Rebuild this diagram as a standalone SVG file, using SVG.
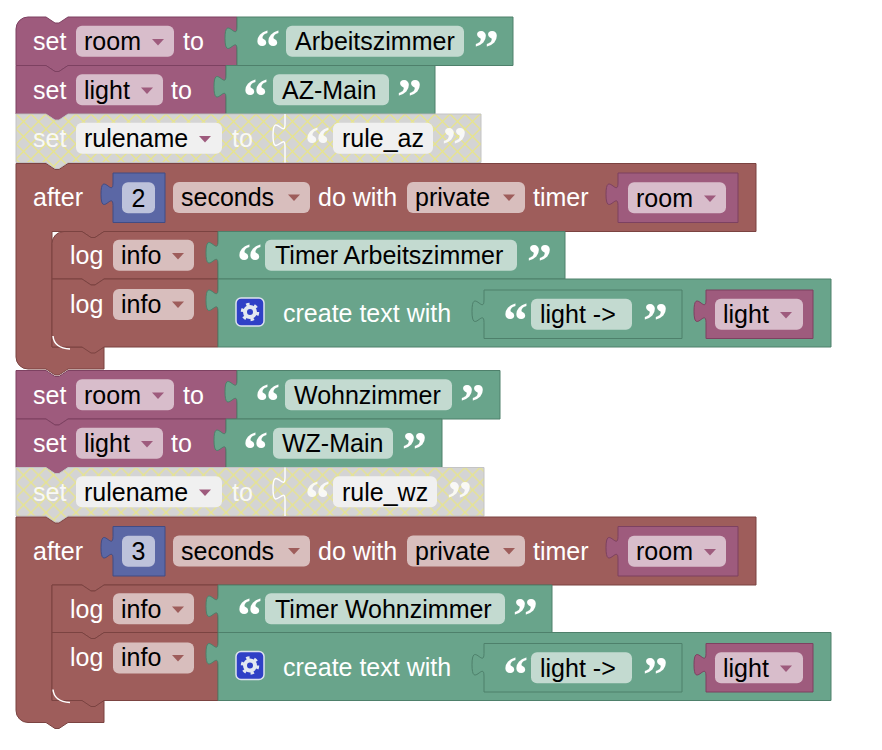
<svg xmlns="http://www.w3.org/2000/svg" width="882" height="750" viewBox="0 0 882 750">
<defs>
<pattern id="dis" width="15" height="15" patternUnits="userSpaceOnUse"><rect width="15" height="15" fill="#d4d4d4"/><path d="M0,0 L15,15 M15,0 L0,15" stroke="#e7e48c" stroke-width="1.3"/></pattern>
<g id="gear"><circle r="5" fill="none" stroke="#e3e8f0" stroke-width="4"/><circle r="7.5" fill="none" stroke="#e3e8f0" stroke-width="3.5" stroke-dasharray="3.3 4.55"/></g>
</defs>
<style>
.t{font-family:"Liberation Sans",Arial,sans-serif;font-size:25px;fill:#fff}
.k{font-family:"Liberation Sans",Arial,sans-serif;font-size:25px;fill:#000}
.q{font-family:"Liberation Serif","Times New Roman",serif;font-weight:bold;font-size:50px;fill:#fff}
.pill{fill:#fff;fill-opacity:.6}
.dpill{fill:#f0f0f0}
.pu{fill:#9e5b7d;stroke:#7d4161;stroke-width:1}
.gr{fill:#69a48b;stroke:#4e806b;stroke-width:1}
.br{fill:#9e5d5b;stroke:#7b4341;stroke-width:1}
.bl{fill:#5b67a5;stroke:#414c85;stroke-width:1}
.ds{fill:url(#dis);stroke:#c4c4c4;stroke-width:1}
.dt{opacity:.85}
.ap{fill:#9e5b7d}
.ab{fill:#9e5d5b}
.hl{fill:none;stroke:#fff;stroke-width:1.5}
.gb{fill:#2f40c6;stroke:#dde2ee;stroke-width:1.5}
</style>
<rect width="882" height="750" fill="#fff"/>
<g id="connectors"/>

<!-- ===== group 1 ===== -->
<g id="set-room-1" transform="translate(16,17)">
<path class="pu" d="M0,12 A12,12 0 0 1 12,0 H30 l9,6 h4 l9,-6 H221 V48.5 H52 l-9,6 h-4 l-9,-6 H0 Z"/>
<text class="t" x="17" y="33">set</text>
<rect class="pill" x="60" y="8.75" width="98" height="31" rx="6"/>
<text class="k" x="68" y="33">room</text>
<path class="ap" d="M136,22 h12 l-6,6.5 z"/>
<text class="t" x="167" y="33">to</text>
</g>
<g id="text-arbeitszimmer" transform="translate(237,17)">
<path class="gr" d="M0,0 v10 c0,15 -12,-12.75 -12,11.25 s12,-3.75 12,11.25 V48.5 H276 V0 Z"/>
<text class="q" x="18" y="47">“</text>
<rect class="pill" x="49" y="8.75" width="178" height="31" rx="6"/>
<text class="k" x="58" y="33">Arbeitszimmer</text>
<text class="q" x="237" y="47">”</text>
</g>
<g id="set-light-1" transform="translate(16,65.5)">
<path class="pu" d="M0,0 H30 l9,6 h4 l9,-6 H210 V48.5 H52 l-9,6 h-4 l-9,-6 H0 Z"/>
<text class="t" x="17" y="33">set</text>
<rect class="pill" x="60" y="8.75" width="87" height="31" rx="6"/>
<text class="k" x="68" y="33">light</text>
<path class="ap" d="M125,22 h12 l-6,6.5 z"/>
<text class="t" x="155" y="33">to</text>
</g>
<g id="text-az-main" transform="translate(226,65.5)">
<path class="gr" d="M0,0 v10 c0,15 -12,-12.75 -12,11.25 s12,-3.75 12,11.25 V48.5 H209 V0 Z"/>
<text class="q" x="17" y="47">“</text>
<rect class="pill" x="47" y="8.75" width="116" height="31" rx="6"/>
<text class="k" x="56" y="33">AZ-Main</text>
<text class="q" x="171" y="47">”</text>
</g>
<g id="set-rulename-1" transform="translate(16,114)">
<path class="ds" d="M0,0 H30 l9,6 h4 l9,-6 H269 V48.5 H52 l-9,6 h-4 l-9,-6 H0 Z"/>
<text class="t dt" x="17" y="33">set</text>
<rect class="dpill" x="60" y="8.75" width="146" height="31" rx="6"/>
<text class="k" x="68" y="33">rulename</text>
<path class="ap" d="M183,22 h12 l-6,6.5 z"/>
<text class="t dt" x="216" y="33">to</text>
</g>
<g id="text-rule-az" transform="translate(285,114)">
<path class="ds" d="M0,0 v10 c0,15 -12,-12.75 -12,11.25 s12,-3.75 12,11.25 V48.5 H196 V0 Z"/>
<path class="hl" d="M0,0 v10 c0,15 -12,-12.75 -12,11.25 s12,-3.75 12,11.25 V48.5"/>
<text class="q dt" x="20" y="47">“</text>
<rect class="dpill" x="48" y="8.75" width="100" height="31" rx="6"/>
<text class="k" x="57" y="33">rule_az</text>
<text class="q dt" x="157" y="47">”</text>
</g>
<g id="after-1" transform="translate(16,163.5)">
<path class="br" d="M0,0 H30 l9,6 h4 l9,-6 H740 V68 H88 l-9,6 h-4 l-9,-6 H36 V183.5 H88 V205.5 H52 l-9,6 h-4 l-9,-6 H12 A12,12 0 0 1 0,193.5 Z"/>
<text class="t" x="17" y="42.5">after</text>
<rect class="pill" x="157" y="18.5" width="137" height="31" rx="6"/>
<text class="k" x="165" y="42.5">seconds</text>
<path class="ab" d="M272,31 h12 l-6,6.5 z"/>
<text class="t" x="302" y="42.5">do with</text>
<rect class="pill" x="391" y="18.5" width="118" height="31" rx="6"/>
<text class="k" x="399" y="42.5">private</text>
<path class="ab" d="M487,31 h12 l-6,6.5 z"/>
<text class="t" x="517" y="42.5">timer</text>
</g>
<g id="number-2" transform="translate(113,173)">
<path class="bl" d="M0,0 v10 c0,15 -12,-12.75 -12,11.25 s12,-3.75 12,11.25 V49.5 H52 V0 Z"/>
<rect class="pill" x="9" y="9.25" width="33" height="31" rx="6"/>
<text class="k" x="25.5" y="33.5" text-anchor="middle">2</text>
</g>
<g id="var-room-1" transform="translate(618,173)">
<path class="pu" d="M0,0 v10 c0,15 -12,-12.75 -12,11.25 s12,-3.75 12,11.25 V49.5 H120 V0 Z"/>
<rect class="pill" x="10" y="9.25" width="98" height="31" rx="6"/>
<text class="k" x="18" y="33.5">room</text>
<path class="ap" d="M86,22.5 h12 l-6,6.5 z"/>
</g>
<g id="log-1a" transform="translate(52,231.5)">
<path class="br" d="M0,12 A12,12 0 0 1 12,0 H30 l9,6 h4 l9,-6 H166 V47.5 H52 l-9,6 h-4 l-9,-6 H0 Z"/>
<text class="t" x="18" y="32.5">log</text>
<rect class="pill" x="61" y="8.25" width="81" height="31" rx="6"/>
<text class="k" x="69" y="32.5">info</text>
<path class="ab" d="M120,21.5 h12 l-6,6.5 z"/>
</g>
<g id="text-timer-az" transform="translate(218,231.5)">
<path class="gr" d="M0,0 v10 c0,15 -12,-12.75 -12,11.25 s12,-3.75 12,11.25 V47.5 H347 V0 Z"/>
<text class="q" x="19" y="46.5">“</text>
<rect class="pill" x="47" y="8.25" width="252" height="31" rx="6"/>
<text class="k" x="57" y="32.5">Timer Arbeitszimmer</text>
<text class="q" x="309" y="46.5">”</text>
</g>
<g id="log-1b" transform="translate(52,279)">
<path class="br" d="M0,0 H30 l9,6 h4 l9,-6 H166 V68 H52 l-9,6 h-4 l-9,-6 H0 Z"/>
<text class="t" x="18" y="33.5">log</text>
<rect class="pill" x="61" y="10" width="81" height="31" rx="6"/>
<text class="k" x="69" y="33.5">info</text>
<path class="ab" d="M120,22.5 h12 l-6,6.5 z"/>
<path class="hl" d="M1,57 Q2,69 18,70" stroke-width="2.5"/>
</g>
<g id="create-text-1" transform="translate(218,279)">
<path class="gr" d="M0,0 v10 c0,15 -12,-12.75 -12,11.25 s12,-3.75 12,11.25 V68 H613 V0 Z"/>
<rect class="gb" x="18" y="19" width="28" height="28" rx="5"/>
<use href="#gear" x="32" y="33"/>
<text class="t" x="65" y="43">create text with</text>
</g>
<g id="text-light-arrow-1" transform="translate(484,290)">
<path class="gr" d="M0,0 v10 c0,15 -12,-12.75 -12,11.25 s12,-3.75 12,11.25 V48.5 H198 V0 Z"/>
<text class="q" x="19" y="47">“</text>
<rect class="pill" x="47" y="8.75" width="101" height="31" rx="6"/>
<text class="k" x="56" y="33">light -&gt;</text>
<text class="q" x="159" y="47">”</text>
</g>
<g id="var-light-1" transform="translate(706,290)">
<path class="pu" d="M0,0 v10 c0,15 -12,-12.75 -12,11.25 s12,-3.75 12,11.25 V48.5 H107 V0 Z"/>
<rect class="pill" x="9" y="8.75" width="88" height="31" rx="6"/>
<text class="k" x="17" y="33">light</text>
<path class="ap" d="M74,22 h12 l-6,6.5 z"/>
</g>

<!-- ===== group 2 ===== -->
<g id="set-room-2" transform="translate(16,370.5)">
<path class="pu" d="M0,0 H30 l9,6 h4 l9,-6 H221 V48.5 H52 l-9,6 h-4 l-9,-6 H0 Z"/>
<text class="t" x="17" y="33">set</text>
<rect class="pill" x="60" y="8.75" width="98" height="31" rx="6"/>
<text class="k" x="68" y="33">room</text>
<path class="ap" d="M136,22 h12 l-6,6.5 z"/>
<text class="t" x="167" y="33">to</text>
</g>
<g id="text-wohnzimmer" transform="translate(237,370.5)">
<path class="gr" d="M0,0 v10 c0,15 -12,-12.75 -12,11.25 s12,-3.75 12,11.25 V48.5 H263 V0 Z"/>
<text class="q" x="18" y="47">“</text>
<rect class="pill" x="48" y="8.75" width="167" height="31" rx="6"/>
<text class="k" x="57" y="33">Wohnzimmer</text>
<text class="q" x="223" y="47">”</text>
</g>
<g id="set-light-2" transform="translate(16,419)">
<path class="pu" d="M0,0 H30 l9,6 h4 l9,-6 H210 V48.5 H52 l-9,6 h-4 l-9,-6 H0 Z"/>
<text class="t" x="17" y="33">set</text>
<rect class="pill" x="60" y="8.75" width="87" height="31" rx="6"/>
<text class="k" x="68" y="33">light</text>
<path class="ap" d="M125,22 h12 l-6,6.5 z"/>
<text class="t" x="155" y="33">to</text>
</g>
<g id="text-wz-main" transform="translate(226,419)">
<path class="gr" d="M0,0 v10 c0,15 -12,-12.75 -12,11.25 s12,-3.75 12,11.25 V48.5 H216 V0 Z"/>
<text class="q" x="17" y="47">“</text>
<rect class="pill" x="47" y="8.75" width="120" height="31" rx="6"/>
<text class="k" x="56" y="33">WZ-Main</text>
<text class="q" x="176" y="47">”</text>
</g>
<g id="set-rulename-2" transform="translate(16,467.5)">
<path class="ds" d="M0,0 H30 l9,6 h4 l9,-6 H269 V48.5 H52 l-9,6 h-4 l-9,-6 H0 Z"/>
<text class="t dt" x="17" y="33">set</text>
<rect class="dpill" x="60" y="8.75" width="146" height="31" rx="6"/>
<text class="k" x="68" y="33">rulename</text>
<path class="ap" d="M183,22 h12 l-6,6.5 z"/>
<text class="t dt" x="216" y="33">to</text>
</g>
<g id="text-rule-wz" transform="translate(285,467.5)">
<path class="ds" d="M0,0 v10 c0,15 -12,-12.75 -12,11.25 s12,-3.75 12,11.25 V48.5 H199 V0 Z"/>
<path class="hl" d="M0,0 v10 c0,15 -12,-12.75 -12,11.25 s12,-3.75 12,11.25 V48.5"/>
<text class="q dt" x="20" y="47">“</text>
<rect class="dpill" x="48" y="8.75" width="104" height="31" rx="6"/>
<text class="k" x="57" y="33">rule_wz</text>
<text class="q dt" x="162" y="47">”</text>
</g>
<g id="after-2" transform="translate(16,517)">
<path class="br" d="M0,0 H30 l9,6 h4 l9,-6 H740 V68 H88 l-9,6 h-4 l-9,-6 H36 V183.5 H88 V205.5 H52 l-9,6 h-4 l-9,-6 H12 A12,12 0 0 1 0,193.5 Z"/>
<text class="t" x="17" y="42.5">after</text>
<rect class="pill" x="157" y="18.5" width="137" height="31" rx="6"/>
<text class="k" x="165" y="42.5">seconds</text>
<path class="ab" d="M272,31 h12 l-6,6.5 z"/>
<text class="t" x="302" y="42.5">do with</text>
<rect class="pill" x="391" y="18.5" width="118" height="31" rx="6"/>
<text class="k" x="399" y="42.5">private</text>
<path class="ab" d="M487,31 h12 l-6,6.5 z"/>
<text class="t" x="517" y="42.5">timer</text>
</g>
<g id="number-3" transform="translate(113,526.5)">
<path class="bl" d="M0,0 v10 c0,15 -12,-12.75 -12,11.25 s12,-3.75 12,11.25 V49.5 H52 V0 Z"/>
<rect class="pill" x="9" y="9.25" width="33" height="31" rx="6"/>
<text class="k" x="25.5" y="33.5" text-anchor="middle">3</text>
</g>
<g id="var-room-2" transform="translate(618,526.5)">
<path class="pu" d="M0,0 v10 c0,15 -12,-12.75 -12,11.25 s12,-3.75 12,11.25 V49.5 H120 V0 Z"/>
<rect class="pill" x="10" y="9.25" width="98" height="31" rx="6"/>
<text class="k" x="18" y="33.5">room</text>
<path class="ap" d="M86,22.5 h12 l-6,6.5 z"/>
</g>
<g id="log-2a" transform="translate(52,585)">
<path class="br" d="M0,0 H30 l9,6 h4 l9,-6 H166 V47.5 H52 l-9,6 h-4 l-9,-6 H0 Z"/>
<text class="t" x="18" y="32.5">log</text>
<rect class="pill" x="61" y="8.25" width="81" height="31" rx="6"/>
<text class="k" x="69" y="32.5">info</text>
<path class="ab" d="M120,21.5 h12 l-6,6.5 z"/>
</g>
<g id="text-timer-wz" transform="translate(218,585)">
<path class="gr" d="M0,0 v10 c0,15 -12,-12.75 -12,11.25 s12,-3.75 12,11.25 V47.5 H334 V0 Z"/>
<text class="q" x="19" y="46.5">“</text>
<rect class="pill" x="47" y="8.25" width="240" height="31" rx="6"/>
<text class="k" x="57" y="32.5">Timer Wohnzimmer</text>
<text class="q" x="295" y="46.5">”</text>
</g>
<g id="log-2b" transform="translate(52,632.5)">
<path class="br" d="M0,0 H30 l9,6 h4 l9,-6 H166 V68 H52 l-9,6 h-4 l-9,-6 H0 Z"/>
<text class="t" x="18" y="33.5">log</text>
<rect class="pill" x="61" y="10" width="81" height="31" rx="6"/>
<text class="k" x="69" y="33.5">info</text>
<path class="ab" d="M120,22.5 h12 l-6,6.5 z"/>
<path class="hl" d="M1,57 Q2,69 18,70" stroke-width="2.5"/>
</g>
<g id="create-text-2" transform="translate(218,632.5)">
<path class="gr" d="M0,0 v10 c0,15 -12,-12.75 -12,11.25 s12,-3.75 12,11.25 V68 H613 V0 Z"/>
<rect class="gb" x="18" y="19" width="28" height="28" rx="5"/>
<use href="#gear" x="32" y="33"/>
<text class="t" x="65" y="43">create text with</text>
</g>
<g id="text-light-arrow-2" transform="translate(484,643.5)">
<path class="gr" d="M0,0 v10 c0,15 -12,-12.75 -12,11.25 s12,-3.75 12,11.25 V48.5 H198 V0 Z"/>
<text class="q" x="19" y="47">“</text>
<rect class="pill" x="47" y="8.75" width="101" height="31" rx="6"/>
<text class="k" x="56" y="33">light -&gt;</text>
<text class="q" x="159" y="47">”</text>
</g>
<g id="var-light-2" transform="translate(706,643.5)">
<path class="pu" d="M0,0 v10 c0,15 -12,-12.75 -12,11.25 s12,-3.75 12,11.25 V48.5 H107 V0 Z"/>
<rect class="pill" x="9" y="8.75" width="88" height="31" rx="6"/>
<text class="k" x="17" y="33">light</text>
<path class="ap" d="M74,22 h12 l-6,6.5 z"/>
</g>
</svg>
